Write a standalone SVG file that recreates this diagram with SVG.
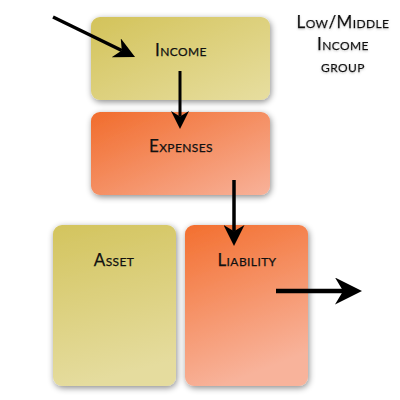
<svg xmlns="http://www.w3.org/2000/svg" width="400" height="400" viewBox="0 0 400 400">
<style>
.lbl{font-family:Lato,"Open Sans","DejaVu Sans",sans-serif;font-variant:small-caps;font-size:17px;fill:#111;stroke:#111;stroke-width:0.25px;text-anchor:middle;letter-spacing:0.4px}
.box{filter:url(#sh)}
.arr{stroke:#000;fill:none;marker-end:url(#head)}
</style>
<defs>
<filter id="sh" x="-20%" y="-20%" width="140%" height="140%">
<feDropShadow dx="1" dy="2" stdDeviation="3" flood-color="#000" flood-opacity="0.45"/>
</filter>
<filter id="tsh" x="-20%" y="-20%" width="140%" height="140%">
<feDropShadow dx="0" dy="1" stdDeviation="1" flood-color="#888" flood-opacity="0.5"/>
</filter>
<linearGradient id="gY" x1="0" y1="0" x2="1" y2="1">
<stop offset="0" stop-color="#d3c35a"/><stop offset="1" stop-color="#e7dea0"/>
</linearGradient>
<linearGradient id="gO" x1="0" y1="0" x2="1" y2="1">
<stop offset="0" stop-color="#f16c2c"/><stop offset="1" stop-color="#f8b29a"/>
</linearGradient>
<linearGradient id="gYv" x1="0" y1="0" x2="0.2" y2="1">
<stop offset="0" stop-color="#d3c45e"/><stop offset="1" stop-color="#e5dc9e"/>
</linearGradient>
<linearGradient id="gOv" x1="0" y1="0" x2="0.3" y2="1">
<stop offset="0" stop-color="#f36f2f"/><stop offset="1" stop-color="#f8b39b"/>
</linearGradient>
<marker id="head" viewBox="0 0 10 10" refX="3" refY="5" markerWidth="6" markerHeight="6" markerUnits="strokeWidth" orient="auto">
<path d="M0,0 L10,5 L0,10 L3,5 z" fill="#000"/>
</marker>
</defs>
<g id="income"><rect class="box" x="91" y="17" width="179" height="83" rx="9" fill="url(#gY)"/><text class="lbl" x="181" y="56">Income</text></g>
<g id="expenses"><rect class="box" x="91" y="112" width="179" height="83" rx="9" fill="url(#gO)"/><text class="lbl" x="181" y="152">Expenses</text></g>
<g id="asset"><rect class="box" x="53" y="225" width="123" height="161" rx="9" fill="url(#gYv)"/><text class="lbl" x="114" y="266">Asset</text></g>
<g id="liability"><rect class="box" x="185" y="225" width="123" height="161" rx="9" fill="url(#gOv)"/><text class="lbl" x="247" y="266">Liability</text></g>
<g id="group-label" filter="url(#tsh)"><text class="lbl" x="343" y="28">Low/Middle</text><text class="lbl" x="343" y="50">Income</text><text class="lbl" x="343" y="72">group</text></g>
<g id="connectors">
<line class="arr" x1="53" y1="17" x2="121.8" y2="50.5" stroke-width="3.5"/>
<line class="arr" x1="180" y1="71" x2="180" y2="116.4" stroke-width="3"/>
<line class="arr" x1="234" y1="180" x2="234" y2="231.3" stroke-width="3.5"/>
<line class="arr" x1="276" y1="291" x2="343.1" y2="291" stroke-width="4.5"/>
</g>
</svg>
